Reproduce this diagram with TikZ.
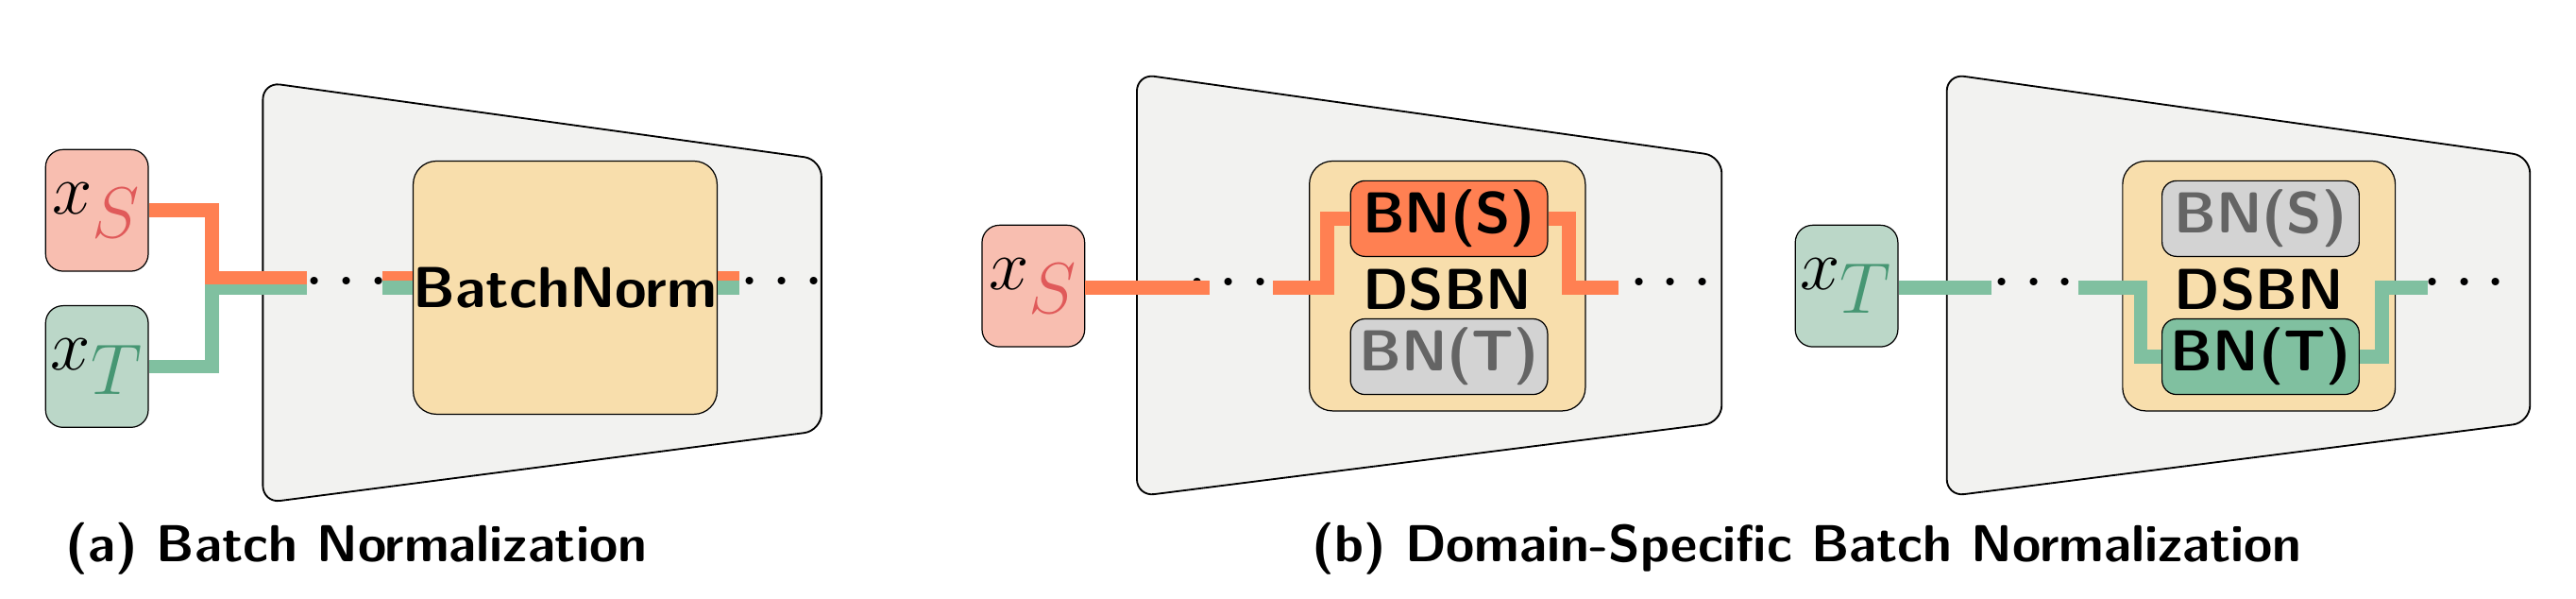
\documentclass[tikz,border=0pt]{standalone}
\usepackage{tikz}
\definecolor{srcfill}{RGB}{248,190,176}
\definecolor{tgtfill}{RGB}{187,215,200}
\definecolor{srcline}{RGB}{255,128,82}
\definecolor{tgtline}{RGB}{128,192,160}
\definecolor{srctext}{RGB}{224,90,90}
\definecolor{tgttext}{RGB}{70,150,115}
\definecolor{netfill}{RGB}{242,242,240}
\definecolor{bnfill}{RGB}{248,222,172}
\definecolor{offfill}{RGB}{211,211,211}
\definecolor{offtext}{RGB}{100,100,100}

\begin{document}
\begin{tikzpicture}[x=0.02cm,y=-0.02cm]
    \tikzstyle{input}=[draw=black,rounded corners=6pt,minimum width=1.25cm,minimum height=1.48cm,inner sep=0pt,font=\fontsize{44}{48}\selectfont]
    \tikzstyle{net}=[draw=black,fill=netfill,rounded corners=6pt,line width=0.6pt]
    \tikzstyle{block}=[draw=black,fill=bnfill,rounded corners=8pt,inner sep=0pt,font=\sffamily\bfseries\fontsize{20}{24}\selectfont]
    \tikzstyle{bn}=[draw=black,rounded corners=5pt,minimum width=2.4cm,minimum height=0.92cm,inner sep=0pt,font=\sffamily\bfseries\fontsize{20}{24}\selectfont]
    \tikzstyle{dots}=[inner sep=0pt,font=\fontsize{24}{28}\selectfont]
    \tikzstyle{src}=[draw=srcline,line width=4.8pt]
    \tikzstyle{tgt}=[draw=tgtline,line width=4.8pt]
    \tikzstyle{caption}=[font=\sffamily\bfseries\fontsize{18}{22}\selectfont]

    \useasboundingbox (0,0) rectangle (1568,364);

    % (a) shared batch normalization
    \draw[net] (160,50) -- (500,97) -- (500,262) -- (160,306) -- cycle;
    \node[input,fill=srcfill] (xs-a) at (59,128) {$x_{\color{srctext}S}$};
    \node[input,fill=tgtfill] (xt-a) at (59,223) {$x_{\color{tgttext}T}$};
    \node[block,minimum width=3.28cm,minimum height=3.08cm] (bn-a) at (344,175) {BatchNorm};
    \node[dots] (d1-a) at (211,172) {$\cdots$};
    \node[dots] (d2-a) at (476,172) {$\cdots$};
    \coordinate (s1-a) at (187,169);
    \coordinate (t1-a) at (187,175);
    \coordinate (s2-a) at (233,169);
    \coordinate (t2-a) at (233,175);
    \coordinate (s3-a) at (450,169);
    \coordinate (t3-a) at (450,175);
    \draw[tgt] (xt-a.east) -| (129,175) -- (t1-a);
    \draw[src] (xs-a.east) -| (129,169) -- (s1-a);
    \draw[src] (s2-a) -- (s2-a -| bn-a.west);
    \draw[tgt] (t2-a) -- (t2-a -| bn-a.west);
    \draw[src] (bn-a.east |- s3-a) -- (s3-a);
    \draw[tgt] (bn-a.east |- t3-a) -- (t3-a);
    \node[caption] (cap-a) at (217,334) {(a) Batch Normalization};

    % (b) domain-specific batch normalization, source branch
    \draw[net] (692,45) -- (1048,95) -- (1048,257) -- (692,302) -- cycle;
    \node[input,fill=srcfill] (xs-b) at (629,174) {$x_{\color{srctext}S}$};
    \node[block,minimum width=3.36cm,minimum height=3.04cm] (ds-b) at (881,174) {};
    \node[font=\sffamily\bfseries\fontsize{20}{24}\selectfont] (lab-b) at (881,176) {DSBN};
    \node[bn,fill=srcline] (bs-b) at (882,133) {BN(S)};
    \node[bn,fill=offfill,text=offtext] (bt-b) at (882,217) {BN(T)};
    \node[dots] (d1-b) at (748,173) {$\cdots$};
    \node[dots] (d2-b) at (1017,173) {$\cdots$};
    \coordinate (a1-b) at (736,175);
    \coordinate (a2-b) at (775,175);
    \coordinate (a3-b) at (985,175);
    \draw[src] (xs-b.east |- a1-b) -- (a1-b);
    \draw[src] (a2-b) -| (808,133) -- (bs-b.west);
    \draw[src] (bs-b.east) -| (955,175) -- (a3-b);

    % (b) domain-specific batch normalization, target branch
    \draw[net] (1185,45) -- (1540,95) -- (1540,257) -- (1185,302) -- cycle;
    \node[input,fill=tgtfill] (xt-c) at (1124,174) {$x_{\color{tgttext}T}$};
    \node[block,minimum width=3.32cm,minimum height=3.04cm] (ds-c) at (1375,174) {};
    \node[font=\sffamily\bfseries\fontsize{20}{24}\selectfont] (lab-c) at (1375,176) {DSBN};
    \node[bn,fill=offfill,text=offtext] (bs-c) at (1376,133) {BN(S)};
    \node[bn,fill=tgtline] (bt-c) at (1376,217) {BN(T)};
    \node[dots] (d1-c) at (1238,173) {$\cdots$};
    \node[dots] (d2-c) at (1500,173) {$\cdots$};
    \coordinate (a1-c) at (1212,175);
    \coordinate (a2-c) at (1265,175);
    \coordinate (a3-c) at (1478,175);
    \draw[tgt] (xt-c.east |- a1-c) -- (a1-c);
    \draw[tgt] (a2-c) -| (1303,217) -- (bt-c.west);
    \draw[tgt] (bt-c.east) -| (1450,175) -- (a3-c);
    \node[caption] (cap-b) at (1100,334) {(b) Domain-Specific Batch Normalization};
\end{tikzpicture}
\end{document}
